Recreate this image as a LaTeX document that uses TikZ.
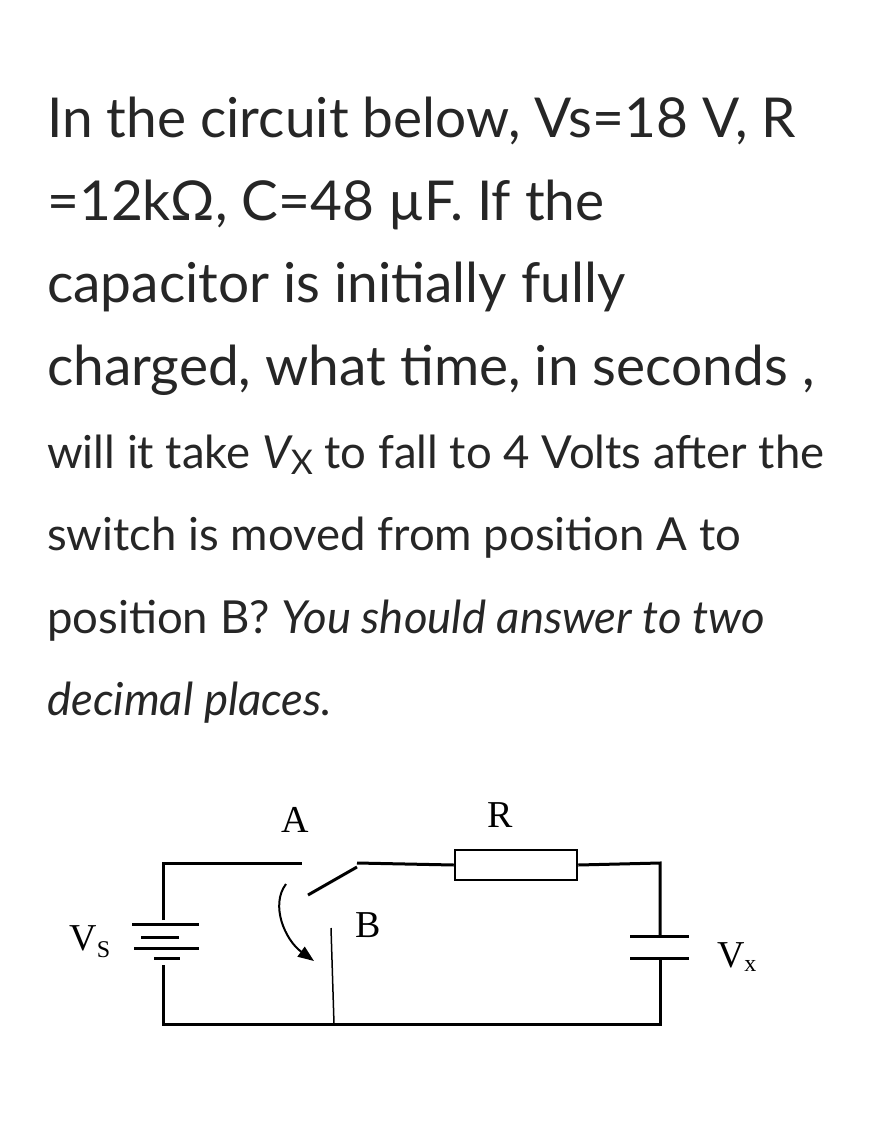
\documentclass[tikz,border=0pt]{standalone}
\usepackage{fontspec}
\setmainfont{Lato}
\newfontfamily\serif{Liberation Serif}
\usetikzlibrary{arrows.meta}
\begin{document}
\begin{tikzpicture}[x=1pt,y=-1pt,
  big/.style={anchor=base west,inner sep=0,font=\fontsize{55}{60}\selectfont,text=black!85},
  small/.style={anchor=base west,inner sep=0,font=\fontsize{45.5}{50}\selectfont,text=black!85},
  lab/.style={inner sep=0,font=\serif\fontsize{38}{40}\selectfont},
  wire/.style={line width=3pt}]
\useasboundingbox (0,0) rectangle (884,1130);
\fill[white] (0,0) rectangle (884,1130);
\node[big] (l1) at (47,137) {In the circuit below, Vs=18 V, R};
\node[big] (l2) at (47,220) {=12kΩ, C=48 µF. If the};
\node[big] (l3) at (47,302) {capacitor is initially fully};
\node[big] (l4) at (47,385) {charged, what time, in seconds ,};
\node[small] (l5) at (47,468) {will it take {\itshape V}\raisebox{-0.3ex}{\fontsize{34}{34}\selectfont X} to fall to 4 Volts after the};
\node[small] (l6) at (47,550) {switch is moved from position A to};
\node[small] (l7) at (47,633) {position B? \itshape You should answer to two};
\node[small] (l8) at (47,715) {\itshape decimal places.};
% circuit
\coordinate (tl) at (163,863);
\coordinate (bl) at (163,1024);
\coordinate (br) at (660,1024);
\coordinate (tr) at (660,863);
\coordinate (a) at (302,863);
\coordinate (p) at (357,863);
\coordinate (b) at (331,928);
\coordinate (bb) at (334,1024);
\node[draw,line width=2.5pt,minimum width=122,minimum height=30,inner sep=0] (R) at (516,865) {};
\draw[wire] (163,920) -- (tl) -- (a);
\draw[wire] (p) -- (R.west);
\draw[wire] (R.east) -- (tr) -- (660,936);
\draw[wire] (660,958) -- (br) -- (bl) -- (163,965);
\draw[wire] (132,924) -- (199,924);
\draw[wire] (141,937) -- (179,937);
\draw[wire] (134,948) -- (199,948);
\draw[wire] (154,958) -- (180,958);
\draw[wire] (630,936) -- (689,936);
\draw[wire] (630,958) -- (689,958);
\draw[wire] (357,867) -- (308,895);
\draw[line width=1.5pt] (b) -- (bb);
\draw[line width=2pt,-{Triangle[length=16pt,width=12pt]}] (286,884) .. controls (270,905) and (285,940) .. (314,961);
\node[lab] (A) at (295,820) {A};
\node[lab] (Rl) at (500,815) {R};
\node[lab] (B) at (368,925) {B};
\node[lab] (Vs) at (90,942) {V\textsubscript{\fontsize{24}{24}\selectfont S}};
\node[lab] (Vx) at (737,957) {V\textsubscript{\fontsize{24}{24}\selectfont x}};
\end{tikzpicture}
\end{document}
